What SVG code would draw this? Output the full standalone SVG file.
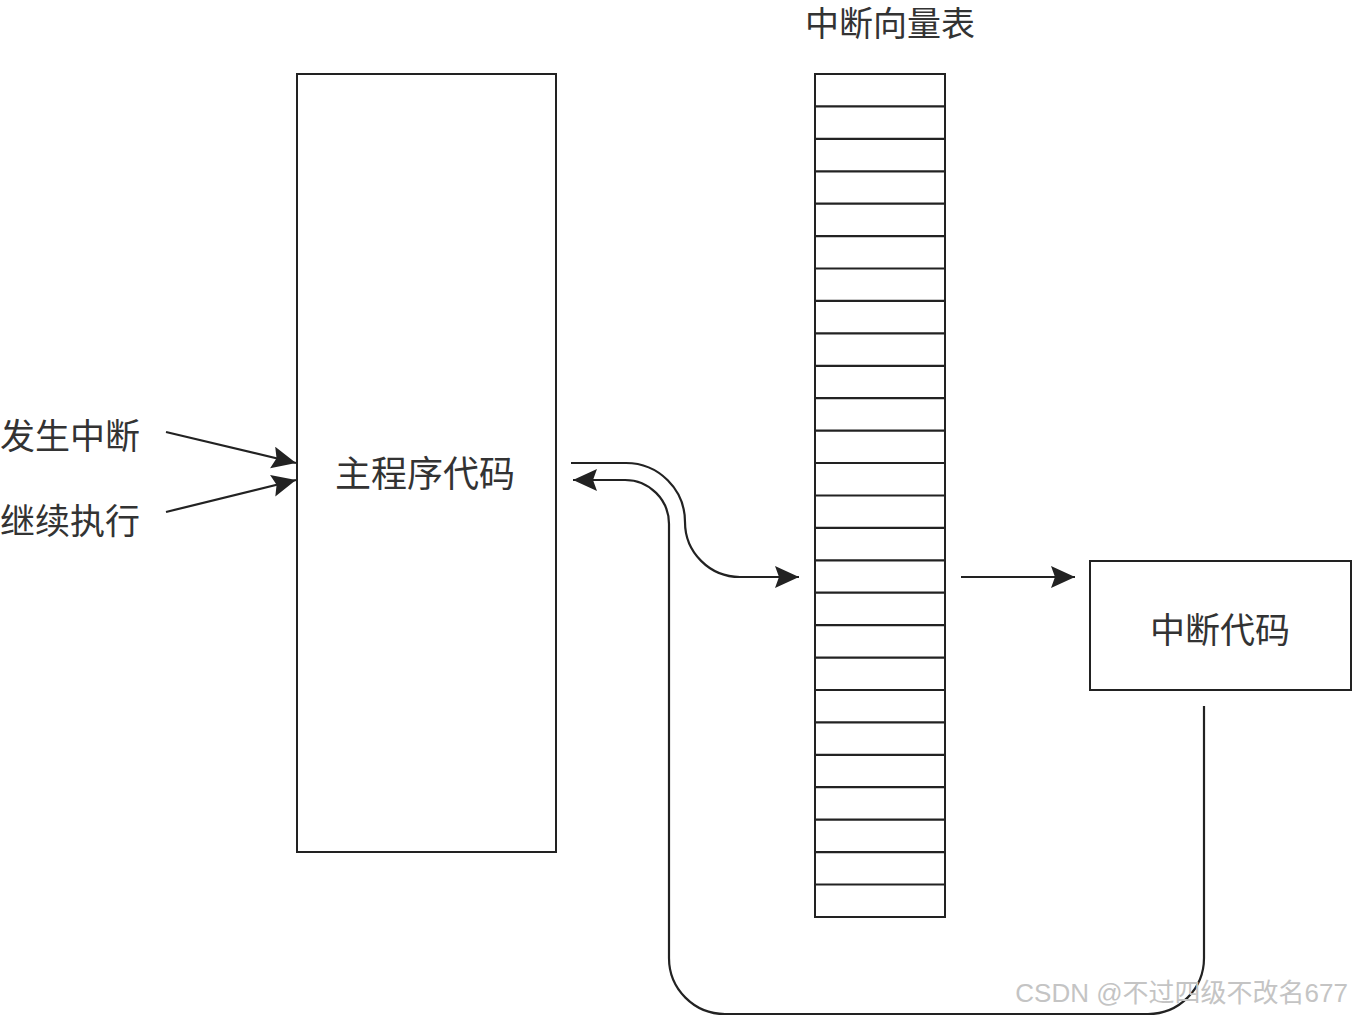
<svg xmlns="http://www.w3.org/2000/svg" width="1352" height="1016" viewBox="0 0 1352 1016">
<style>
.box{fill:#fff;stroke:#222;stroke-width:2}
.ln{fill:none;stroke:#222;stroke-width:2.2}
.row{stroke:#222;stroke-width:2.2}
.t{font-family:"Noto Sans CJK SC","Liberation Serif",serif;fill:#333;dominant-baseline:central}
.wm{font-family:"Liberation Sans","Noto Sans CJK SC",sans-serif;fill:#c4c4c4;font-size:26px}
</style>
<defs>
<marker id="ah" markerUnits="userSpaceOnUse" markerWidth="26" markerHeight="24" refX="24" refY="11" orient="auto">
<path d="M0,0 L24,11 L0,22 L4,11 z" fill="#222"/>
</marker>
</defs>
<rect width="1352" height="1016" fill="#fff"/>
<g id="main">
<rect class="box" x="297" y="74" width="259" height="778"/>
<text class="t" x="425" y="471" font-size="36" text-anchor="middle">主程序代码</text>
</g>
<g id="vector-table">
<text class="t" x="890" y="21" font-size="34" text-anchor="middle">中断向量表</text>
<rect class="box" x="815" y="74" width="130" height="843"/>
<g class="row">
<line x1="815" x2="945" y1="106.4" y2="106.4"/><line x1="815" x2="945" y1="138.8" y2="138.8"/>
<line x1="815" x2="945" y1="171.3" y2="171.3"/><line x1="815" x2="945" y1="203.7" y2="203.7"/>
<line x1="815" x2="945" y1="236.1" y2="236.1"/><line x1="815" x2="945" y1="268.5" y2="268.5"/>
<line x1="815" x2="945" y1="300.9" y2="300.9"/><line x1="815" x2="945" y1="333.4" y2="333.4"/>
<line x1="815" x2="945" y1="365.8" y2="365.8"/><line x1="815" x2="945" y1="398.2" y2="398.2"/>
<line x1="815" x2="945" y1="430.6" y2="430.6"/><line x1="815" x2="945" y1="463.0" y2="463.0"/>
<line x1="815" x2="945" y1="495.5" y2="495.5"/><line x1="815" x2="945" y1="527.9" y2="527.9"/>
<line x1="815" x2="945" y1="560.3" y2="560.3"/><line x1="815" x2="945" y1="592.7" y2="592.7"/>
<line x1="815" x2="945" y1="625.1" y2="625.1"/><line x1="815" x2="945" y1="657.6" y2="657.6"/>
<line x1="815" x2="945" y1="690.0" y2="690.0"/><line x1="815" x2="945" y1="722.4" y2="722.4"/>
<line x1="815" x2="945" y1="754.8" y2="754.8"/><line x1="815" x2="945" y1="787.2" y2="787.2"/>
<line x1="815" x2="945" y1="819.7" y2="819.7"/><line x1="815" x2="945" y1="852.1" y2="852.1"/>
<line x1="815" x2="945" y1="884.5" y2="884.5"/>
</g>
</g>
<g id="isr">
<rect class="box" x="1090" y="561" width="261" height="129"/>
<text class="t" x="1220" y="627" font-size="35" text-anchor="middle">中断代码</text>
</g>
<g id="labels">
<text class="t" x="0" y="433" font-size="35">发生中断</text>
<text class="t" x="0" y="518" font-size="35">继续执行</text>
</g>
<g id="connectors">
<line class="ln" x1="166" y1="432" x2="296" y2="463" marker-end="url(#ah)"/>
<line class="ln" x1="166" y1="512" x2="296" y2="480" marker-end="url(#ah)"/>
<path class="ln" d="M571,463 H626 A59,59 0 0 1 685,522 A55,55 0 0 0 740,577 H799" marker-end="url(#ah)"/>
<line class="ln" x1="961" y1="577" x2="1075" y2="577" marker-end="url(#ah)"/>
<path class="ln" d="M1204,706 V958 A56,56 0 0 1 1148,1014 H725 A56,56 0 0 1 669,958 V524 A44,44 0 0 0 625,480 H573" marker-end="url(#ah)"/>
</g>
<text class="wm" x="1348" y="1002" text-anchor="end">CSDN @不过四级不改名677</text>
</svg>
